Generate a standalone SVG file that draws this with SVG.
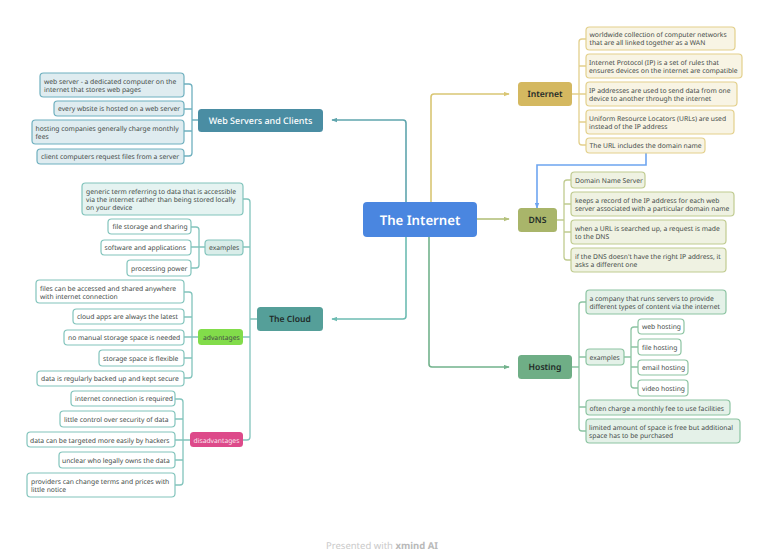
<svg xmlns="http://www.w3.org/2000/svg" width="768" height="558" viewBox="0 0 768 558">
<style>
text{font-family:"Noto Sans","Liberation Sans",sans-serif;font-size:6.75px;fill:#444a48;text-rendering:geometricPrecision}
.c{fill:none;stroke-width:1.3;stroke-linejoin:round}
.m{fill:none;stroke-width:1.6}
.b{stroke-width:1.2}
.ws{stroke:#6fb0bf}.cl{stroke:#82c4bc}.in{stroke:#e3d08c}.dn{stroke:#c0cb90}.ho{stroke:#8cc4a2}
.wsf{fill:#dfecf0}.clf{fill:#e5f3f1}.inf{fill:#f8f4e4}.dnf{fill:#eff2e2}.hof{fill:#e4f1e8}.w{fill:#fff}
.t{font-size:8.600px;font-weight:600;fill:#1f2a28}
</style>
<defs>
<marker id="aT" viewBox="0 0 8 6" refX="7" refY="3" markerWidth="6" markerHeight="5" markerUnits="userSpaceOnUse" orient="auto"><path d="M0 0L8 3L0 6z" fill="#5fa5ad"/></marker>
<marker id="aC" viewBox="0 0 8 6" refX="7" refY="3" markerWidth="6" markerHeight="5" markerUnits="userSpaceOnUse" orient="auto"><path d="M0 0L8 3L0 6z" fill="#6dbcb2"/></marker>
<marker id="aI" viewBox="0 0 8 6" refX="7" refY="3" markerWidth="6" markerHeight="5" markerUnits="userSpaceOnUse" orient="auto"><path d="M0 0L8 3L0 6z" fill="#d9c674"/></marker>
<marker id="aD" viewBox="0 0 8 6" refX="7" refY="3" markerWidth="6" markerHeight="5" markerUnits="userSpaceOnUse" orient="auto"><path d="M0 0L8 3L0 6z" fill="#b5c17c"/></marker>
<marker id="aH" viewBox="0 0 8 6" refX="7" refY="3" markerWidth="6" markerHeight="5" markerUnits="userSpaceOnUse" orient="auto"><path d="M0 0L8 3L0 6z" fill="#72b28c"/></marker>
<marker id="aB" viewBox="0 0 8 6" refX="7" refY="3" markerWidth="6" markerHeight="5" markerUnits="userSpaceOnUse" orient="auto"><path d="M0 0L8 3L0 6z" fill="#6ea5f0"/></marker>
</defs>
<rect width="768" height="558" fill="#fff"/>
<g id="connectors">
<path class="m" stroke="#5fa5ad" d="M406 202V123Q406 120 403 120H332" marker-end="url(#aT)"/>
<path class="m" stroke="#6dbcb2" d="M406 237V316Q406 319 403 319H332" marker-end="url(#aC)"/>
<path class="m" stroke="#d9c674" d="M431 202V97Q431 94 434 94H509" marker-end="url(#aI)"/>
<path class="m" stroke="#b5c17c" d="M477 219H509" marker-end="url(#aD)"/>
<path class="m" stroke="#72b28c" d="M429 237V364Q429 367 432 367H509" marker-end="url(#aH)"/>
<path class="m" stroke="#6ea5f0" d="M646 153V165H537V208" marker-end="url(#aB)"/>
<path class="c ws" d="M198 120H192M184 84H189Q192 84 192 87V153Q192 156 189 156H184M184 109H192M184 131H192"/>
<path class="c cl" d="M257 319H250M243 199H247Q250 199 250 202V437Q250 440 247 440H243M243 247H250M243 337H250"/>
<path class="c cl" d="M205 247H191M191 227H196Q199 227 199 230V265Q199 268 196 268H191"/>
<path class="c cl" d="M198 337H184M184 292H189Q192 292 192 295V375Q192 378 189 378H184M184 317H192M184 358H192"/>
<path class="c cl" d="M190 440H175M175 399H180Q183 399 183 402V482Q183 485 180 485H175M175 419H183M175 460H183"/>
<path class="c in" d="M572 94H586M586 39H582Q579 39 579 42V142Q579 145 582 145H586M586 66H579M586 122H579"/>
<path class="c dn" d="M557 220H564M571 180H567Q564 180 564 183V257Q564 260 567 260H571M571 204H564M571 232H564"/>
<path class="c ho" d="M572 367H579M586 302H582Q579 302 579 305V428Q579 431 582 431H586M586 357H579M586 407H579"/>
<path class="c ho" d="M624 357H631M638 327H634Q631 327 631 330V385Q631 388 634 388H638M638 347H631M638 367H631"/>
</g>
<g id="root"><rect x="363" y="202" width="114" height="35" rx="4" fill="#4a86e0"/><text x="420" y="224.500" text-anchor="middle" style="font-size:13.200px;font-weight:600;fill:#fff">The Internet</text></g>
<g id="web-servers"><rect x="198" y="109" width="125" height="23" rx="3.500" fill="#4a8da3"/><text x="260.500" y="123.500" text-anchor="middle" style="font-size:9px;font-weight:500;fill:#fff">Web Servers and Clients</text></g>
<g id="ws1"><rect class="b ws wsf" x="40" y="73" width="144" height="24" rx="3.500"/><text x="44" y="83.500">web server - a dedicated computer on the<tspan x="44" dy="8.300">internet that stores web pages</tspan></text></g>
<g id="ws2"><rect class="b ws wsf" x="54" y="101" width="130" height="15" rx="3.500"/><text x="58" y="111">every wbsite is hosted on a web server</text></g>
<g id="ws3"><rect class="b ws wsf" x="32" y="120" width="152" height="24" rx="3.500"/><text x="35.500" y="131">hosting companies generally charge monthly<tspan x="35.500" dy="8.300">fees</tspan></text></g>
<g id="ws4"><rect class="b ws wsf" x="37" y="149" width="147" height="15" rx="3.500"/><text x="41" y="159">client computers request files from a server</text></g>
<g id="cloud"><rect x="257" y="307" width="66" height="24" rx="3.500" fill="#559f99"/><text x="290" y="322" text-anchor="middle" class="t">The Cloud</text></g>
<g id="c1"><rect class="b cl clf" x="82" y="183" width="161" height="32" rx="3.500"/><text x="86" y="193.500">generic term referring to data that is accessible<tspan x="86" dy="8.300">via the internet rather than being stored locally</tspan><tspan x="86" dy="8.300">on your device</tspan></text></g>
<g id="c-examples"><rect class="b cl" fill="#d9ede9" x="205" y="240" width="38" height="15" rx="3.500"/><text x="209" y="250">examples</text></g>
<g id="c2"><rect class="b cl w" x="108" y="219" width="83" height="15" rx="3.500"/><text x="112.500" y="229">file storage and sharing</text></g>
<g id="c3"><rect class="b cl w" x="101" y="240" width="90" height="15" rx="3.500"/><text x="104.500" y="250">software and applications</text></g>
<g id="c4"><rect class="b cl w" x="127" y="260" width="64" height="16" rx="3.500"/><text x="131" y="271">processing power</text></g>
<g id="c-adv"><rect x="198" y="329" width="45" height="16" rx="3.500" fill="#82dc4a"/><text x="203" y="340">advantages</text></g>
<g id="a1"><rect class="b cl w" x="36" y="280" width="148" height="23" rx="3.500"/><text x="40" y="290.500">files can be accessed and shared anywhere<tspan x="40" dy="8.300">with internet connection</tspan></text></g>
<g id="a2"><rect class="b cl w" x="73" y="309" width="111" height="15" rx="3.500"/><text x="77" y="319">cloud apps are always the latest</text></g>
<g id="a3"><rect class="b cl w" x="64" y="330" width="120" height="15" rx="3.500"/><text x="68" y="340">no manual storage space is needed</text></g>
<g id="a4"><rect class="b cl w" x="99" y="350" width="85" height="16" rx="3.500"/><text x="103" y="361">storage space is flexible</text></g>
<g id="a5"><rect class="b cl w" x="37" y="371" width="147" height="15" rx="3.500"/><text x="41" y="381">data is regularly backed up and kept secure</text></g>
<g id="c-dis"><rect x="190" y="432" width="53" height="15" rx="3.500" fill="#dd4a8a"/><text x="193.500" y="442.500" style="fill:#fbe6ef">disadvantages</text></g>
<g id="d1"><rect class="b cl w" x="71" y="391" width="104" height="15" rx="3.500"/><text x="75" y="401">internet connection is required</text></g>
<g id="d2"><rect class="b cl w" x="60" y="411" width="115" height="16" rx="3.500"/><text x="64" y="422">little control over security of data</text></g>
<g id="d3"><rect class="b cl w" x="27" y="432" width="148" height="15" rx="3.500"/><text x="30" y="442.500">data can be targeted more easily by hackers</text></g>
<g id="d4"><rect class="b cl w" x="59" y="452" width="116" height="16" rx="3.500"/><text x="62" y="463">unclear who legally owns the data</text></g>
<g id="d5"><rect class="b cl w" x="27" y="473" width="148" height="24" rx="3.500"/><text x="31" y="483.500">providers can change terms and prices with<tspan x="31" dy="8.300">little notice</tspan></text></g>
<g id="internet"><rect x="518" y="82" width="54" height="24" rx="3.500" fill="#d4b860"/><text x="545" y="97" text-anchor="middle" class="t">Internet</text></g>
<g id="i1"><rect class="b in inf" x="586" y="27" width="149" height="23" rx="3.500"/><text x="589.500" y="37">worldwide collection of computer networks<tspan x="589.500" dy="8.300">that are all linked together as a WAN</tspan></text></g>
<g id="i2"><rect class="b in inf" x="586" y="54" width="156" height="24" rx="3.500"/><text x="589" y="64.800">Internet Protocol (IP) is a set of rules that<tspan x="589" dy="8.300">ensures devices on the internet are compatible</tspan></text></g>
<g id="i3"><rect class="b in inf" x="586" y="82" width="151" height="24" rx="3.500"/><text x="589" y="92.800">IP addresses are used to send data from one<tspan x="589" dy="8.300">device to another through the internet</tspan></text></g>
<g id="i4"><rect class="b in inf" x="586" y="110" width="148" height="24" rx="3.500"/><text x="589" y="120.800">Uniform Resource Locators (URLs) are used<tspan x="589" dy="8.300">instead of the IP address</tspan></text></g>
<g id="i5"><rect class="b in inf" x="586" y="138" width="119" height="15" rx="3.500"/><text x="589.500" y="148">The URL includes the domain name</text></g>
<g id="dns"><rect x="518" y="208" width="39" height="24" rx="3.500" fill="#a9b56a"/><text x="537.500" y="223" text-anchor="middle" class="t">DNS</text></g>
<g id="n1"><rect class="b dn dnf" x="571" y="172" width="74" height="16" rx="3.500"/><text x="575" y="182.500">Domain Name Server</text></g>
<g id="n2"><rect class="b dn dnf" x="571" y="192" width="163" height="24" rx="3.500"/><text x="575" y="202.500">keeps a record of the IP address for each web<tspan x="575" dy="8.300">server associated with a particular domain name</tspan></text></g>
<g id="n3"><rect class="b dn dnf" x="571" y="220" width="155" height="24" rx="3.500"/><text x="575" y="230.500">when a URL is searched up, a request is made<tspan x="575" dy="8.300">to the DNS</tspan></text></g>
<g id="n4"><rect class="b dn dnf" x="571" y="248" width="155" height="24" rx="3.500"/><text x="575" y="258.500">if the DNS doesn't have the right IP address, it<tspan x="575" dy="8.300">asks a different one</tspan></text></g>
<g id="hosting"><rect x="518" y="355" width="54" height="24" rx="3.500" fill="#6fae86"/><text x="545" y="370" text-anchor="middle" class="t">Hosting</text></g>
<g id="h1"><rect class="b ho hof" x="586" y="290" width="140" height="24" rx="3.500"/><text x="589.500" y="300.800">a company that runs servers to provide<tspan x="589.500" dy="8.300">different types of content via the internet</tspan></text></g>
<g id="h-examples"><rect class="b ho hof" x="586" y="349" width="38" height="16" rx="3.500"/><text x="589.500" y="360">examples</text></g>
<g id="h2"><rect class="b ho w" x="638" y="319" width="46" height="15" rx="3.500"/><text x="642" y="329">web hosting</text></g>
<g id="h3"><rect class="b ho w" x="638" y="339" width="43" height="16" rx="3.500"/><text x="642" y="350">file hosting</text></g>
<g id="h4"><rect class="b ho w" x="638" y="360" width="50" height="15" rx="3.500"/><text x="642" y="370">email hosting</text></g>
<g id="h5"><rect class="b ho w" x="638" y="380" width="50" height="16" rx="3.500"/><text x="642" y="391">video hosting</text></g>
<g id="h6"><rect class="b ho hof" x="586" y="400" width="144" height="15" rx="3.500"/><text x="589.500" y="410.500">often charge a monthly fee to use facilities</text></g>
<g id="h7"><rect class="b ho hof" x="586" y="419" width="154" height="24" rx="3.500"/><text x="589" y="429.800">limited amount of space is free but additional<tspan x="589" dy="8.300">space has to be purchased</tspan></text></g>
<text x="326" y="549" style="font-size:9.500px;fill:#c9c9c9">Presented with <tspan style="font-weight:700;fill:#b9b9b9">xmind AI</tspan></text>
</svg>
